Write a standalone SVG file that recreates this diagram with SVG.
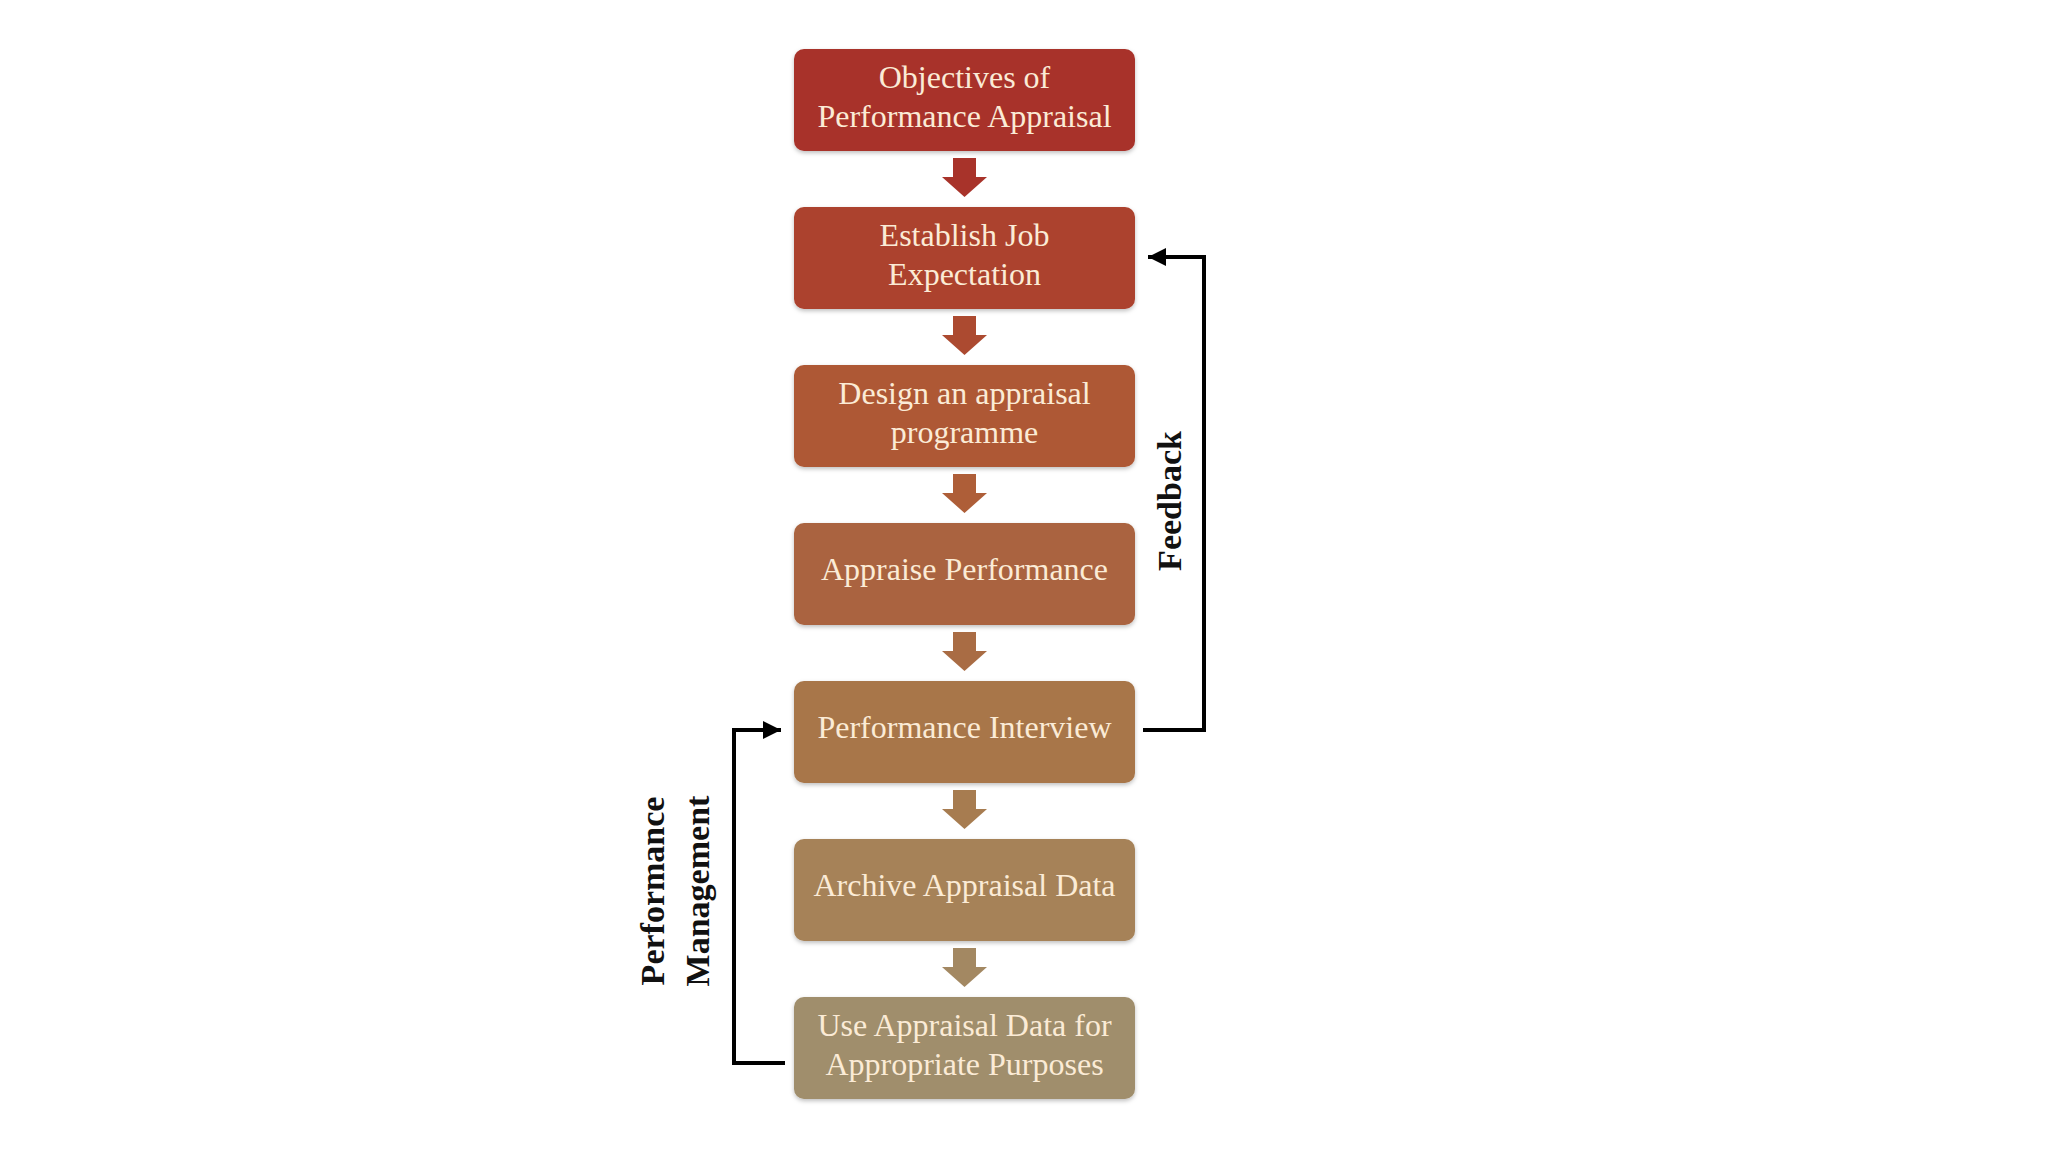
<svg xmlns="http://www.w3.org/2000/svg" width="2048" height="1152" viewBox="0 0 2048 1152">
<defs>
<style>
.box{stroke:none}
.bt{font-family:"Liberation Serif","Times New Roman",serif;font-size:32px;fill:#FBEBD6;text-anchor:middle}
.lbl{font-family:"Liberation Serif","Times New Roman",serif;font-size:34px;font-weight:bold;fill:#111;text-anchor:middle}
.conn{fill:none;stroke:#000;stroke-width:4}
</style>
<marker id="ah" viewBox="0 0 10 10" refX="10" refY="5" markerWidth="4.5" markerHeight="4.5" orient="auto" markerUnits="strokeWidth">
<path d="M0,0 L10,5 L0,10 z" fill="#000"/>
</marker>
<filter id="sh" x="-5%" y="-5%" width="110%" height="115%">
<feDropShadow dx="0" dy="2" stdDeviation="2" flood-color="#000" flood-opacity="0.25"/>
</filter>
</defs>
<rect width="2048" height="1152" fill="#fff"/>

<g id="node1"><rect class="box" x="794" y="49" width="341" height="102" rx="10" fill="#A8332A" filter="url(#sh)"/>
<text class="bt" x="964.5" y="88">Objectives of</text><text class="bt" x="964.5" y="127">Performance Appraisal</text></g>

<g id="node2"><rect class="box" x="794" y="207" width="341" height="102" rx="10" fill="#AC422D" filter="url(#sh)"/>
<text class="bt" x="964.5" y="246">Establish Job</text><text class="bt" x="964.5" y="285">Expectation</text></g>

<g id="node3"><rect class="box" x="794" y="365" width="341" height="102" rx="10" fill="#AE5835" filter="url(#sh)"/>
<text class="bt" x="964.5" y="404">Design an appraisal</text><text class="bt" x="964.5" y="443">programme</text></g>

<g id="node4"><rect class="box" x="794" y="523" width="341" height="102" rx="10" fill="#AA643F" filter="url(#sh)"/>
<text class="bt" x="964.5" y="580">Appraise Performance</text></g>

<g id="node5"><rect class="box" x="794" y="681" width="341" height="102" rx="10" fill="#A8764A" filter="url(#sh)"/>
<text class="bt" x="964.5" y="738">Performance Interview</text></g>

<g id="node6"><rect class="box" x="794" y="839" width="341" height="102" rx="10" fill="#A68258" filter="url(#sh)"/>
<text class="bt" x="964.5" y="896">Archive Appraisal Data</text></g>

<g id="node7"><rect class="box" x="794" y="997" width="341" height="102" rx="10" fill="#A08E6C" filter="url(#sh)"/>
<text class="bt" x="964.5" y="1036">Use Appraisal Data for</text><text class="bt" x="964.5" y="1075">Appropriate Purposes</text></g>

<g id="connectors">
<path d="M953,158 h23 v19 h11 l-22.5,20 l-22.5,-20 h11 z" fill="#A8332A"/>
<path d="M953,316 h23 v19 h11 l-22.5,20 l-22.5,-20 h11 z" fill="#AC4A30"/>
<path d="M953,474 h23 v19 h11 l-22.5,20 l-22.5,-20 h11 z" fill="#AE5E38"/>
<path d="M953,632 h23 v19 h11 l-22.5,20 l-22.5,-20 h11 z" fill="#A96C44"/>
<path d="M953,790 h23 v19 h11 l-22.5,20 l-22.5,-20 h11 z" fill="#A77C50"/>
<path d="M953,948 h23 v19 h11 l-22.5,20 l-22.5,-20 h11 z" fill="#A38862"/>
<path class="conn" d="M1143,730 H1204 V257 H1148" marker-end="url(#ah)"/>
<path class="conn" d="M785,1063 H734 V730 H781" marker-end="url(#ah)"/>
</g>

<g id="labels">
<text class="lbl" transform="translate(1181,501) rotate(-90)">Feedback</text>
<text class="lbl" transform="translate(664,891) rotate(-90)">Performance</text>
<text class="lbl" transform="translate(709,891) rotate(-90)">Management</text>
</g>
</svg>
